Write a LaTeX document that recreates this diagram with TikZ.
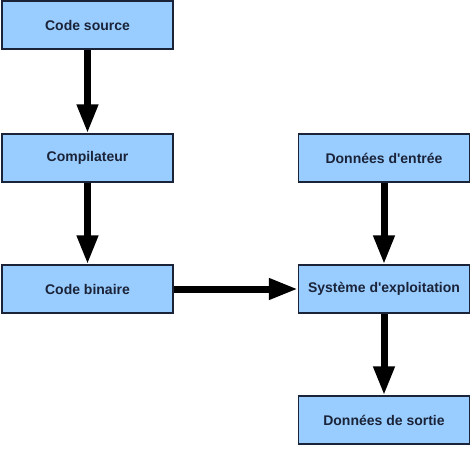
\documentclass[tikz,border=0pt]{standalone}
\usepackage{fontspec}
\setmainfont{Liberation Sans}
\usetikzlibrary{arrows.meta}
\definecolor{boxfill}{HTML}{99CCFF}
\definecolor{boxline}{HTML}{1A2338}
\tikzset{
  procbox/.style={draw=boxline, line width=1.3pt, fill=boxfill, minimum width=171pt, minimum height=48pt, inner sep=0pt, font=\fontsize{14pt}{16pt}\selectfont\bfseries, text=boxline},
  flow/.style={line width=7pt, draw=black, -{Triangle[length=29pt,width=20pt]}, shorten >=0pt}
}
\begin{document}
\begin{tikzpicture}[x=1pt,y=-1pt]
\useasboundingbox (0,0) rectangle (474,449);
\node[procbox] (src) at (87.5,25) {Code source};
\node[procbox] (comp) at (87.5,158) {Compilateur};
\node[procbox] (bin) at (87.5,289) {Code binaire};
\node[procbox] (in) at (384,158) {Données d\textquotesingle entrée};
\node[procbox] (os) at (384,289) {Système d\textquotesingle exploitation};
\node[procbox] (out) at (384,420) {Données de sortie};
\draw[flow] (src) -- (comp);
\draw[flow] (comp) -- (bin);
\draw[flow] (bin) -- (os);
\draw[flow] (in) -- (os);
\draw[flow] (os) -- (out);
\end{tikzpicture}
\end{document}
